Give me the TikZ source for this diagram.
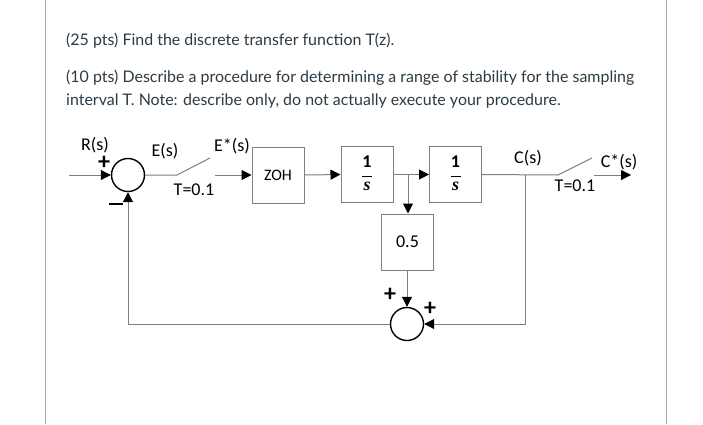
\documentclass[tikz,border=0pt]{standalone}
\usepackage{fontspec}
\setmainfont{Lato}
\newfontfamily\diag{Carlito}
\newfontfamily\serifs{Liberation Serif}
\usetikzlibrary{arrows.meta}
\definecolor{ln}{HTML}{7F7F7F}
\definecolor{txt}{HTML}{2D3B45}
\tikzset{
  x=1pt,y=-1pt,
  wire/.style={draw=ln,line width=1pt},
  arr/.style={wire,-{Triangle[length=10pt,width=10pt,fill=black,color=black]}},
  blk/.style={draw=ln,line width=1pt,fill=white,minimum width=52pt,minimum height=56pt,inner sep=0pt,font=\diag\fontsize{16}{18}\selectfont,text=black},
  sumj/.style={circle,draw=black,line width=1.4pt,fill=white,minimum size=33pt,inner sep=0pt},
  lab/.style={font=\diag\fontsize{18}{20}\selectfont,text=black,inner sep=0pt},
  sgn/.style={font=\diag\bfseries\fontsize{24}{24}\selectfont,text=black,inner sep=0pt},
  para/.style={font=\fontsize{15.96}{18}\selectfont,text=txt,inner sep=0pt,anchor=base west},
  pagerule/.style={draw=black!35,line width=0.8pt},
  barline/.style={draw=black,line width=0.6pt},
  unitnum/.style={font=\diag\bfseries\fontsize{18}{20}\selectfont,text=black,inner sep=0pt},
  unitden/.style={font=\serifs\itshape\bfseries\fontsize{18}{20}\selectfont,text=black,inner sep=0pt}
}
\begin{document}
\begin{tikzpicture}
\useasboundingbox (0,0) rectangle (703,424);
\fill[white] (0,0) rectangle (703,424);
\coordinate (ruleLa) at (45,0); \coordinate (ruleLb) at (45,424);
\coordinate (ruleRa) at (666,0); \coordinate (ruleRb) at (666,424);
\draw[pagerule] (ruleLa) -- (ruleLb);
\draw[pagerule] (ruleRa) -- (ruleRb);
\node[para] (p1) at (66,45) {(25 pts) Find the discrete transfer function T(z).};
\node[para] (p2) at (66,82) {(10 pts) Describe a procedure for determining a range of stability for the sampling};
\node[para] (p3) at (66,105) {interval T. Note: describe only, do not actually execute your procedure.};

\node[sumj] (s1) at (128,175) {};
\node[sumj] (s2) at (407,324) {};
\node[blk] (zoh) at (278,175) {ZOH};
\node[blk] (g1) at (367,174.5) {};
\node[blk] (g2) at (455.5,174.5) {};
\node[blk] (k) at (407.5,242) {\fontsize{18}{20}\selectfont 0.5};

\node[unitnum] (n1) at (367,162) {1};
\node[unitden] (d1) at (367,186) {s};
\draw[barline] (362,176) -- (372,176);
\node[unitnum] (n2) at (455.5,162) {1};
\node[unitden] (d2) at (455.5,186) {s};
\draw[barline] (450.5,176) -- (460.5,176);

\coordinate (in) at (69,175);
\coordinate (sw1a) at (177,175);
\coordinate (sw1b) at (210,158);
\coordinate (sw1c) at (215,175);
\coordinate (br) at (408,175);
\coordinate (jc) at (525,175);
\coordinate (sw2a) at (558,175);
\coordinate (sw2b) at (592,158);
\coordinate (sw2c) at (594,175);
\coordinate (out) at (631,175);
\coordinate (cr) at (525,324);
\coordinate (fb) at (128,324);

\draw[arr] (in) -- (s1.west);
\draw[wire] (s1.east) -- (sw1a) -- (sw1b);
\draw[arr] (sw1c) -- (zoh.west);
\draw[arr] (zoh.east) -- (g1.west);
\draw[arr] (g1.east) -- (g2.west);
\draw[arr] (br) -- (k.north -| br);
\draw[wire] (g2.east) -- (sw2a) -- (sw2b);
\draw[arr] (sw2c) -- (out);
\draw[arr] (jc) -- (cr) -- (s2.east);
\draw[arr] (k.south -| s2) -- (s2.north);
\draw[arr] (s2.west) -- (fb) -- (s1.south);

\node[lab] (lr) at (95,145) {R(s)};
\node[lab] (le) at (165,151) {E(s)};
\node[lab] (les) at (232,146) {E*(s)};
\node[lab] (lt1) at (194,190) {T=0.1};
\node[lab] (lc) at (528,158) {C(s)};
\node[lab] (lcs) at (619,162) {C*(s)};
\node[lab] (lt2) at (575,186) {T=0.1};
\node[sgn] (sp) at (104,163) {+};
\node[sgn] (sm) at (116,204) {\rule{14pt}{2pt}};
\node[sgn] (sa) at (390,295) {+};
\node[sgn] (sb) at (430,309) {+};
\end{tikzpicture}
\end{document}
